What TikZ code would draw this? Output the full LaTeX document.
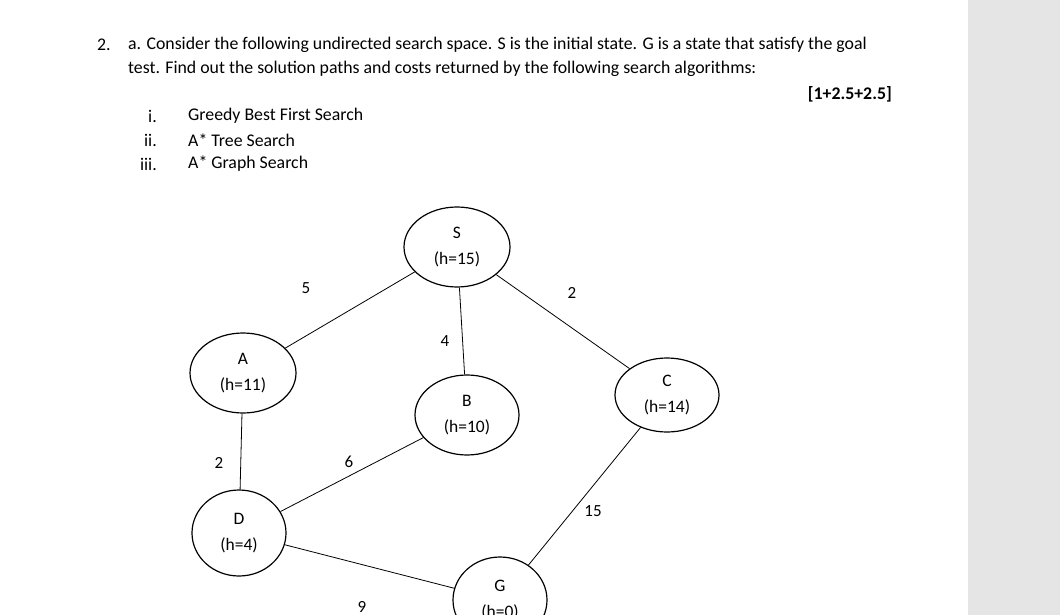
\documentclass[tikz,border=0pt]{standalone}
\usepackage{fontspec}
\setmainfont{Carlito}
\usetikzlibrary{shapes.geometric}
\begin{document}
\begin{tikzpicture}[x=1pt,y=-1pt,
  st/.style={draw,line width=1.2pt,ellipse,inner sep=0pt,align=center,font=\fontsize{17.5}{26}\selectfont},
  ed/.style={line width=0.8pt},
  lb/.style={font=\fontsize{17}{18}\selectfont},
  tx/.style={anchor=west,font=\fontsize{17.8}{20}\selectfont,inner sep=0pt}]
\useasboundingbox (0,0) rectangle (1060,615);
\fill[white] (0,0) rectangle (968,615);
\fill[black!10] (968,0) rectangle (1060,615);
\begin{scope}
\clip (0,0) rectangle (968,615);
\node[tx] (n2) at (97,45) {2.};
\node[tx] (l1) at (128,45) {a. Consider the following undirected search space. S is the initial state. G is a state that satisfy the goal};
\node[tx] (l2) at (128,69) {test. Find out the solution paths and costs returned by the following search algorithms:};
\node[tx,anchor=east,font=\fontsize{17.8}{20}\selectfont\bfseries] (mk) at (892,94) {[1+2.5+2.5]};
\node[tx,anchor=east] (r1) at (157,116) {i.};
\node[tx,anchor=east] (r2) at (157,140) {ii.};
\node[tx,anchor=east] (r3) at (157,164) {iii.};
\node[tx] (t1) at (188,116) {Greedy Best First Search};
\node[tx] (t2) at (188,140) {A* Tree Search};
\node[tx] (t3) at (188,164) {A* Graph Search};
\node[st,minimum width=106,minimum height=80] (S) at (457,247) {S\\(h=15)};
\node[st,minimum width=106,minimum height=80] (A) at (243,373) {A\\(h=11)};
\node[st,minimum width=104,minimum height=80] (B) at (467,415) {B\\(h=10)};
\node[st,minimum width=104,minimum height=74] (C) at (667,395) {C\\(h=14)};
\node[st,minimum width=94,minimum height=86] (D) at (239,533) {D\\(h=4)};
\node[st,minimum width=94,minimum height=86] (G) at (500,600) {G\\(h=0)};
\draw[ed] (S) -- (A);
\draw[ed] (S) -- (B);
\draw[ed] (S) -- (C);
\draw[ed] (A) -- (D);
\draw[ed] (D) -- (B);
\draw[ed] (D) -- (G);
\draw[ed] (C) -- (G);
\node[lb] (e1) at (306,288) {5};
\node[lb] (e2) at (572,293) {2};
\node[lb] (e3) at (445,341) {4};
\node[lb] (e4) at (219,463) {2};
\node[lb] (e5) at (349,462) {6};
\node[lb] (e6) at (593,511) {15};
\node[lb] (e7) at (362,607) {9};
\end{scope}
\end{tikzpicture}
\end{document}
